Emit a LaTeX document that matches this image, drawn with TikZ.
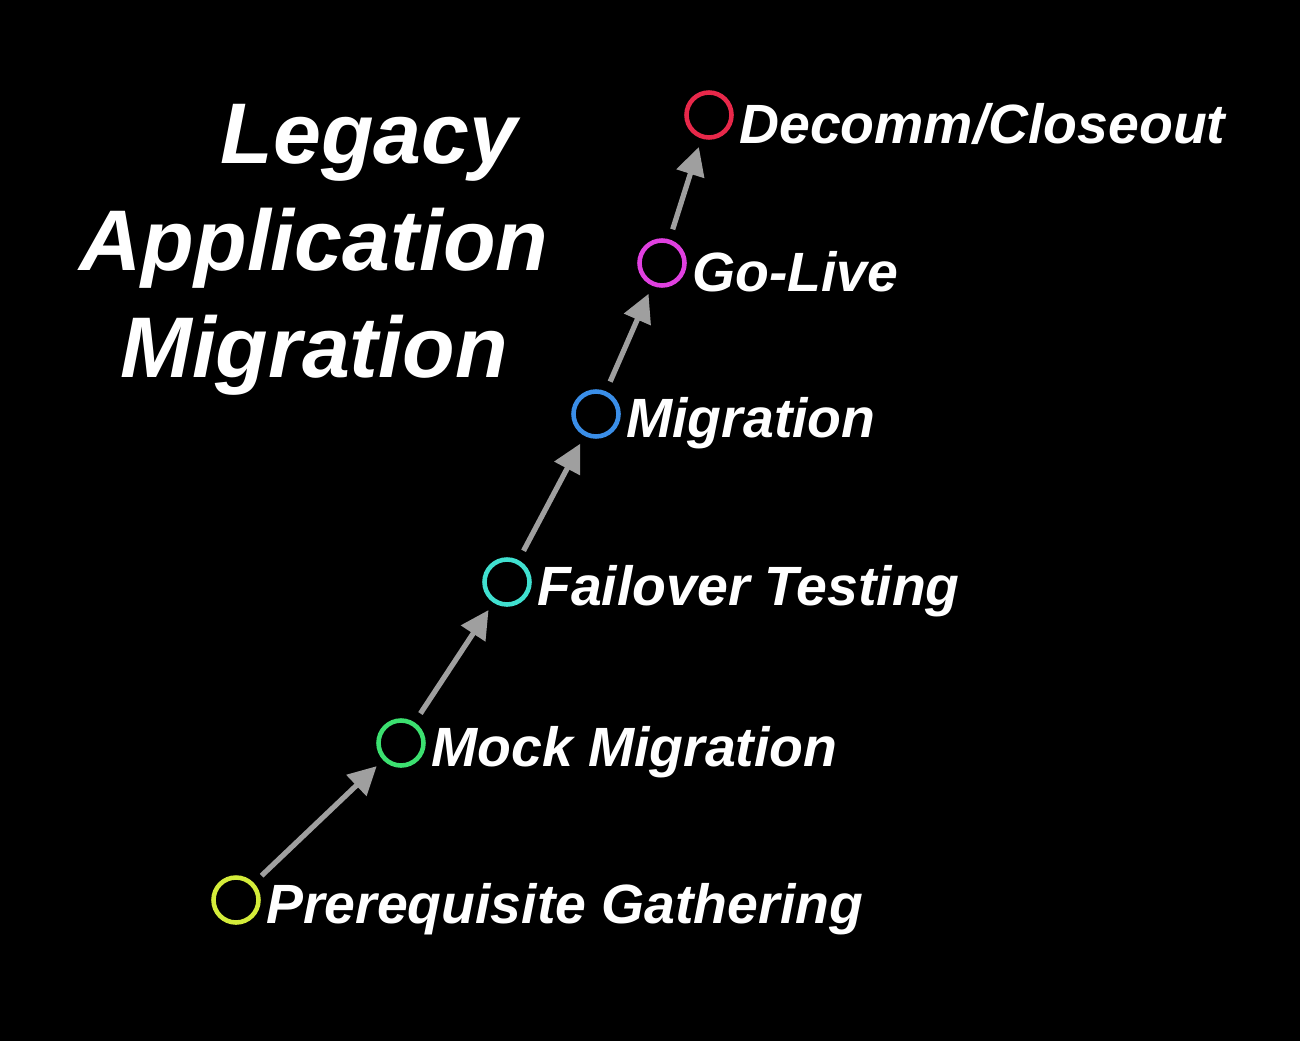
\documentclass[tikz,border=0pt]{standalone}
\usepackage{fontspec}
\setmainfont{Liberation Sans}
\usetikzlibrary{arrows.meta}
\definecolor{ca}{RGB}{212,236,58}
\definecolor{cb}{RGB}{60,224,112}
\definecolor{cc}{RGB}{64,224,208}
\definecolor{cd}{RGB}{58,142,232}
\definecolor{ce}{RGB}{224,64,224}
\definecolor{cf}{RGB}{232,40,74}
\begin{document}
\begin{tikzpicture}[x=0.02cm,y=-0.02cm,
  stage/.style={circle,draw=#1,line width=2.6pt,minimum size=0.9cm,inner sep=0pt},
  lbl/.style={anchor=west,text=white,font=\fontsize{31.5}{34}\selectfont\bfseries\itshape,inner sep=0pt,xshift=3pt,yshift=-5pt},
  arr/.style={draw=gray!75,line width=3pt,-{Triangle[length=16pt,width=16pt]},shorten <=6pt,shorten >=5pt}]
\fill[black] (0,0) rectangle (1300,1041);
\node[text=white,font=\fontsize{49}{61}\selectfont\bfseries\itshape,align=center] (t) at (314,250) {\hspace*{2.2cm}Legacy\\Application\\Migration};
\node[stage=ca] (a) at (236,900) {};
\node[stage=cb] (b) at (401,743) {};
\node[stage=cc] (c) at (507,582) {};
\node[stage=cd] (d) at (596,414) {};
\node[stage=ce] (e) at (662,263) {};
\node[stage=cf] (f) at (709,115) {};
\node[lbl] at (a.east) {Prerequisite Gathering};
\node[lbl] at (b.east) {Mock Migration};
\node[lbl] at (c.east) {Failover Testing};
\node[lbl] at (d.east) {Migration};
\node[lbl] at (e.east) {Go-Live};
\node[lbl] at (f.east) {Decomm/Closeout};
\draw[arr] (a) -- (b);
\draw[arr] (b) -- (c);
\draw[arr] (c) -- (d);
\draw[arr] (d) -- (e);
\draw[arr] (e) -- (f);
\end{tikzpicture}
\end{document}
